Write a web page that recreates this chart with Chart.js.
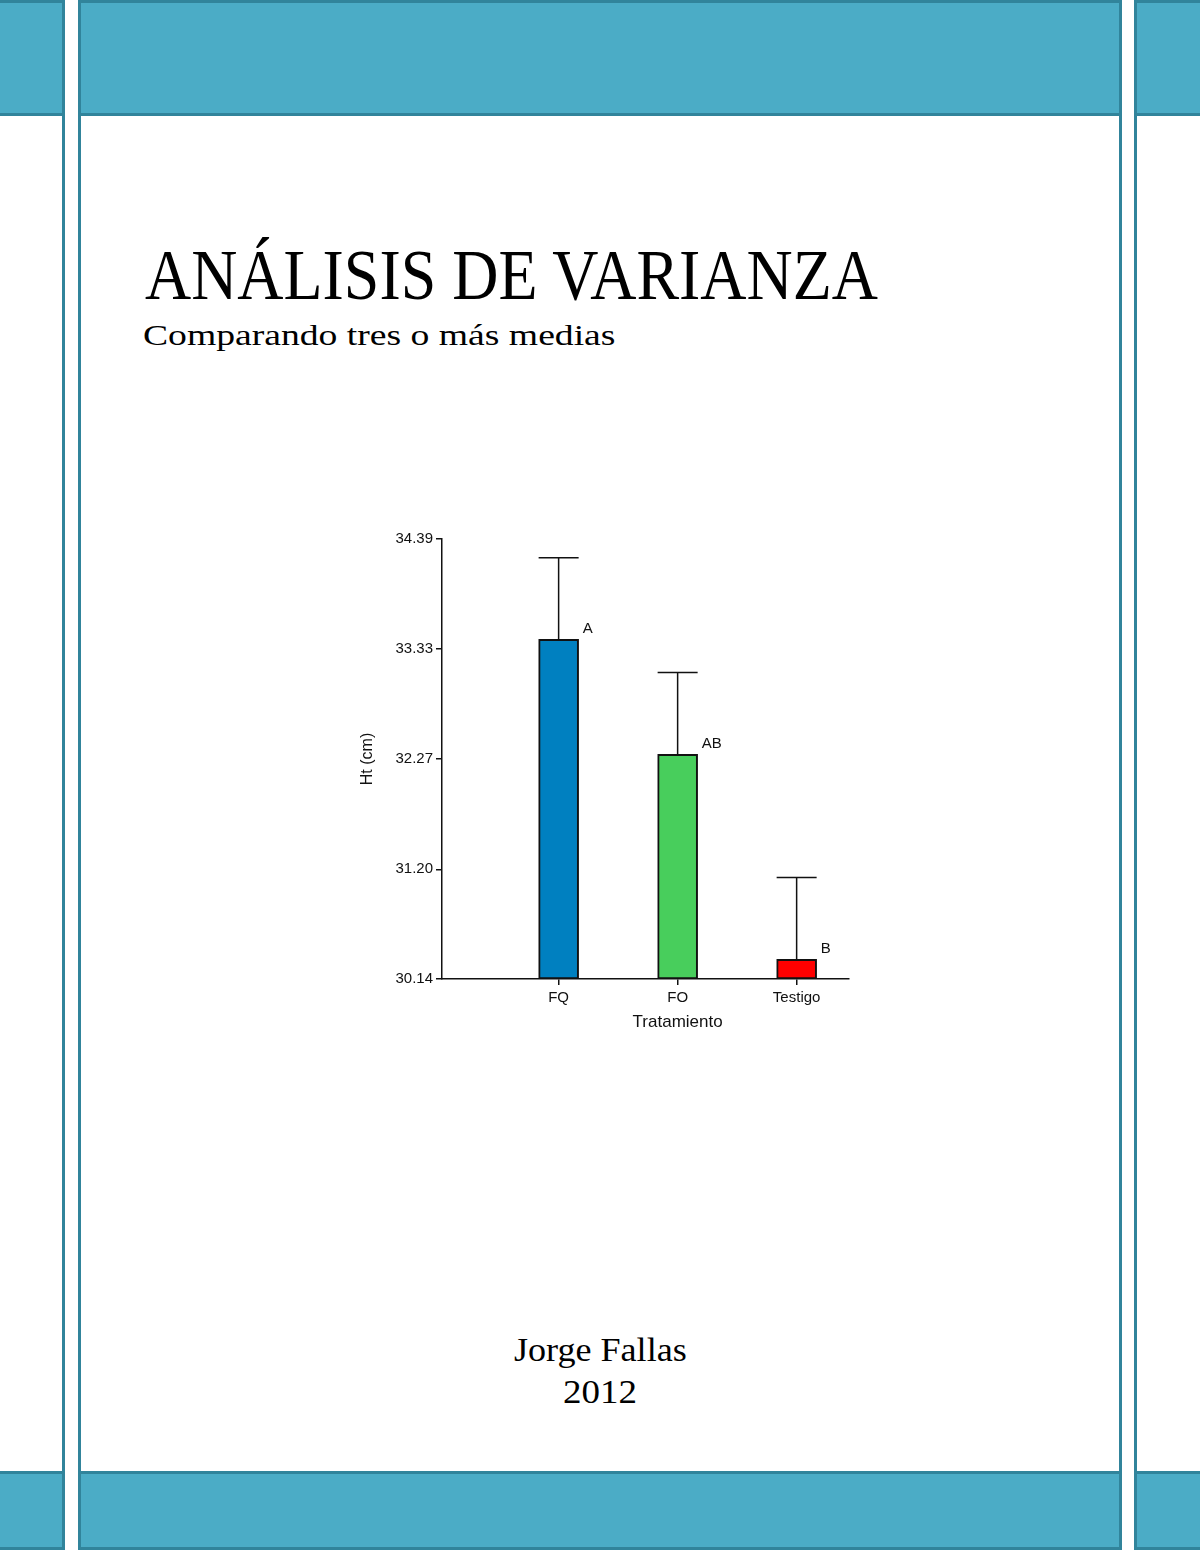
<!DOCTYPE html>
<html><head><meta charset="utf-8">
<script src="https://cdn.jsdelivr.net/npm/chart.js@4.4.1/dist/chart.umd.min.js"></script>
<style>
html,body{margin:0;padding:0;background:#fff;}
body{width:1200px;height:1550px;position:relative;overflow:hidden;}
.band{position:absolute;background:#4BACC6;border:3px solid #31849B;box-sizing:border-box;}
.frame{position:absolute;border:3px solid #31849B;box-sizing:border-box;}
.t{position:absolute;font-family:"Liberation Serif",serif;color:#000;line-height:1;white-space:nowrap;transform-origin:0 0;}
#chartBox{position:absolute;left:350px;top:527px;width:510px;height:520px;}
</style></head><body>
<div class="frame" style="left:-10px;top:0;width:75px;height:1550px"></div>
<div class="frame" style="left:78px;top:0;width:1044px;height:1550px"></div>
<div class="frame" style="left:1134px;top:0;width:80px;height:1550px"></div>
<div class="band" style="left:-10px;top:0;width:75px;height:116px"></div>
<div class="band" style="left:78px;top:0;width:1044px;height:116px"></div>
<div class="band" style="left:1134px;top:0;width:80px;height:116px"></div>
<div class="band" style="left:-10px;top:1471px;width:75px;height:79px"></div>
<div class="band" style="left:78px;top:1471px;width:1044px;height:79px"></div>
<div class="band" style="left:1134px;top:1471px;width:80px;height:79px"></div>

<div class="t" id="title" data-w="733" style="left:145px;top:240px;font-size:71px">ANÁLISIS DE VARIANZA</div>
<div class="t" id="sub" data-w="473" style="left:143px;top:320px;font-size:30px">Comparando tres o más medias</div>
<div class="t" id="author" data-w="173" data-c="600" style="top:1333px;font-size:34px">Jorge Fallas</div>
<div class="t" id="year" data-w="74" data-c="600" style="top:1375px;font-size:34px">2012</div>

<div id="chartBox"><canvas id="c" width="510" height="520"></canvas></div>
<script>
const categories = ['FQ', 'FO', 'Testigo'];
const means = [33.42, 32.31, 30.33];
const upperErr = [34.21, 33.10, 31.12];
const letters = ['A', 'AB', 'B'];
const yTicks = [30.14, 31.20, 32.27, 33.33, 34.39];
const barColors = ['#0080C0', '#48CE5C', '#FF0000'];
const xTitle = 'Tratamiento';
const yTitle = 'Ht (cm)';

document.querySelectorAll('.t').forEach(el => {
  const w = +el.dataset.w;
  const s = w / el.offsetWidth;
  el.style.transform = 'scaleX(' + s + ')';
  if (el.dataset.c) el.style.left = (+el.dataset.c - w / 2) + 'px';
});

const ink = '#111';
const sans = '"Liberation Sans", Arial, sans-serif';
const errPlugin = {
  id: 'errbars',
  afterDatasetsDraw(chart) {
    const {ctx, scales: {x, y}} = chart;
    const meta = chart.getDatasetMeta(0);
    ctx.save();
    ctx.strokeStyle = ink; ctx.lineWidth = 1.5;
    ctx.font = '15px ' + sans;
    ctx.fillStyle = ink; ctx.textBaseline = 'bottom'; ctx.textAlign = 'left';
    meta.data.forEach((bar, i) => {
      const cx = bar.x, half = bar.width / 2;
      const yTop = y.getPixelForValue(means[i]);
      const yErr = y.getPixelForValue(upperErr[i]);
      ctx.beginPath();
      ctx.moveTo(cx, yTop); ctx.lineTo(cx, yErr);
      ctx.moveTo(cx - half, yErr); ctx.lineTo(cx + half, yErr);
      ctx.stroke();
      ctx.fillText(letters[i], cx + half + 4, yTop - 3);
    });
    // x-axis title, centred under the middle category as in the original
    ctx.font = '17px ' + sans;
    ctx.textAlign = 'center'; ctx.textBaseline = 'middle';
    ctx.fillText(xTitle, x.getPixelForValue((categories.length + 1) / 2), x.bottom - 25);
    ctx.restore();
  }
};

const tickFont = {family: sans, size: 15};
new Chart(document.getElementById('c'), {
  type: 'bar',
  data: {
    datasets: [{
      data: categories.map((c, i) => ({x: i + 1, y: [yTicks[0], means[i]]})),
      backgroundColor: barColors,
      borderColor: ink,
      borderWidth: 2,
      borderSkipped: false,
      barThickness: 40
    }]
  },
  options: {
    responsive: false,
    animation: false,
    layout: {padding: {top: 10, right: 11, left: 0, bottom: 0}},
    plugins: {legend: {display: false}, tooltip: {enabled: false}},
    scales: {
      x: {
        type: 'linear', min: 0.02, max: 3.44, offset: false,
        afterBuildTicks: s => { s.ticks = categories.map((c, i) => ({value: i + 1})); },
        afterFit: s => { s.height = 68; },
        ticks: {callback: (v, i) => categories[i], font: tickFont, color: ink, padding: 4, autoSkip: false, maxRotation: 0},
        grid: {display: true, offset: false, drawOnChartArea: false, drawTicks: true, tickLength: 6, color: ink, lineWidth: 1.5},
        border: {display: true, color: ink, width: 1.5},
        title: {display: false}
      },
      y: {
        type: 'linear', min: yTicks[0], max: yTicks[yTicks.length - 1],
        afterBuildTicks: s => { s.ticks = yTicks.map(v => ({value: v})); },
        afterFit: s => { s.width = 92; },
        ticks: {callback: v => v.toFixed(2), font: tickFont, color: ink, padding: 3, autoSkip: false},
        grid: {display: true, drawOnChartArea: false, drawTicks: true, tickLength: 6, color: ink, lineWidth: 1.5},
        border: {display: true, color: ink, width: 1.5},
        title: {display: true, text: yTitle, color: ink, font: {family: sans, size: 16}, padding: {top: 8, bottom: 0}}
      }
    }
  },
  plugins: [errPlugin]
});
</script>
</body></html>
